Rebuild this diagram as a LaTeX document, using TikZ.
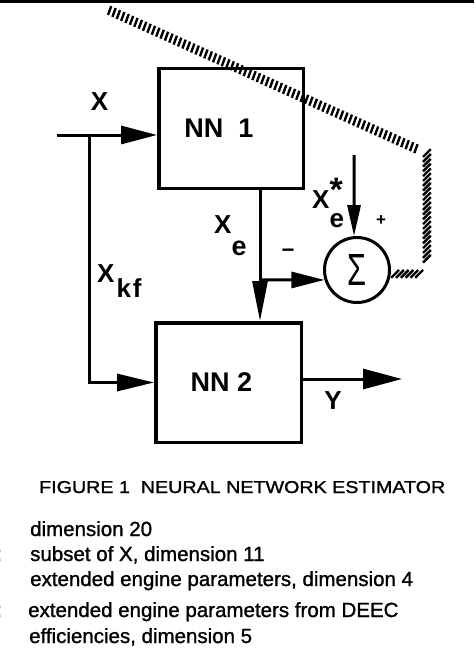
\documentclass[tikz,border=0pt]{standalone}
\usepackage{fontspec}
\setmainfont{Liberation Sans}
\newfontfamily\legfont[FakeBold=1.2]{Liberation Sans}
\usepackage{graphicx}
\usetikzlibrary{arrows.meta,decorations.pathreplacing}
\begin{document}
\begin{tikzpicture}[x=1pt,y=-1pt,
  box/.style={draw, line width=3.5pt, inner sep=0pt, font=\fontsize{27}{27}\selectfont\bfseries},
  wire/.style={line width=3pt},
  lab/.style={inner sep=0pt, font=\fontsize{26}{26}\selectfont\bfseries},
  leg/.style={inner sep=0pt, anchor=base west, font=\fontsize{20.5}{24}\legfont},
  hatch/.style n args={2}{line width=2.4pt, decorate, decoration={border, segment length=4.8pt, amplitude=#1, angle=#2}}
]
\useasboundingbox (0,0) rectangle (474,650);
\fill (0,0) rectangle (474,3.5);

% blocks
\node[box, minimum width=144.5pt, minimum height=119.5pt] (nn1) at (231,128.5) {\kern-24pt NN~~1};
\node[box, minimum width=145.5pt, minimum height=119.5pt] (nn2) at (228.5,382.5) {\kern-14pt NN 2};
\node[circle, draw, line width=3pt, minimum size=65pt, inner sep=0pt] (sum) at (357,270)
  {\resizebox{19pt}{31pt}{Σ}};

% connectors
\coordinate (xin) at (57,135);
\coordinate (br) at (89,135);
\coordinate (j) at (260,280);
\coordinate (xs) at (354,155);
\coordinate (yout) at (402,379);
\draw[wire, -{Triangle[length=36pt,width=18pt]}] (xin) -- (xin -| nn1.west);
\draw[wire, -{Triangle[length=37pt,width=17pt]}] (br) |- (nn2.west);
\draw[wire, -{Triangle[length=40pt,width=15pt]}] (j |- nn1.south) -- (j |- nn2.north);
\draw[wire, -{Triangle[length=33pt,width=16pt]}] (j) -- (sum.197);
\draw[wire, -{Triangle[length=31pt,width=13pt]}] (xs) -- (sum.95);
\draw[wire, -{Triangle[length=39pt,width=20pt]}] (yout -| nn2.east) -- (yout);

% hatched boundary
\coordinate (h1) at (108,15);
\coordinate (h2) at (423,157);
\coordinate (h3) at (423,270);
\draw[hatch={9.5pt}{94}] (h1) -- (h2);
\draw[hatch={11pt}{135}] (h2) -- (h3);
\draw[hatch={11pt}{45}] (h3) -- (sum.east);

% labels
\node[lab, anchor=base] (lx) at (99.5,111) {X};
\node[lab, anchor=base west] (lxkf) at (97,282) {X\kern2pt\raisebox{-15pt}{k\kern2pt f}};
\node[lab, anchor=base west] (lxe) at (214,233) {X\raisebox{-22pt}{\fontsize{27}{27}\selectfont e}};
\node[lab, anchor=base west] (lxs) at (312,208) {X\raisebox{-19pt}{\rlap{e}}\raisebox{7pt}{\fontsize{34}{34}\selectfont *}};
\node[lab, anchor=base] (ly) at (333,409) {Y};
\node[inner sep=0pt, font=\fontsize{22}{22}\selectfont\bfseries] (lminus) at (288,253) {−};
\node[inner sep=0pt, font=\fontsize{17}{17}\selectfont\bfseries] (lplus) at (381,221) {+};

% caption and legend
\node[inner sep=0pt, anchor=base west] (cap) at (39,493)
  {\fontsize{17}{17}\legfont\resizebox{406pt}{12pt}{FIGURE 1\ \ NEURAL NETWORK ESTIMATOR}};
\node[leg] (l1) at (30,536) {dimension 20};
\node[leg] (c2) at (-4,561) {:};
\node[leg] (l2) at (30,561) {subset of X, dimension 11};
\node[leg] (l3) at (30,586) {extended engine parameters, dimension 4};
\node[leg] (c4) at (-4,617) {:};
\node[leg] (l4) at (28,617) {extended engine parameters from DEEC};
\node[leg] (l5) at (29,643) {efficiencies, dimension 5};
\end{tikzpicture}
\end{document}
